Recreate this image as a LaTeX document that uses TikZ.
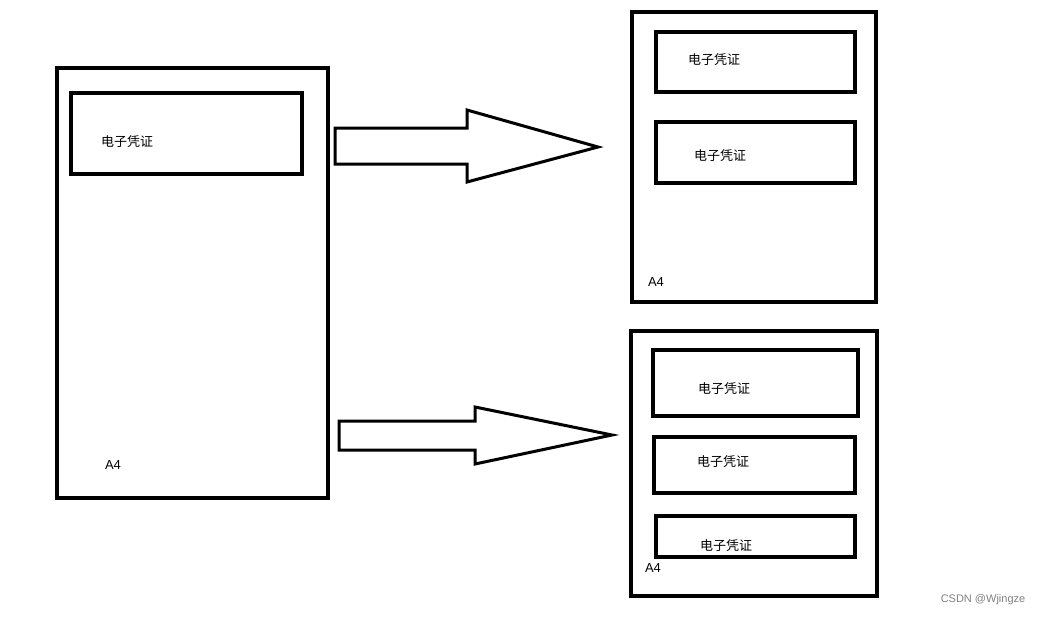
\documentclass[tikz,border=0pt]{standalone}
\usepackage{fontspec}
\newfontfamily\cjk{Noto Sans CJK SC}
\setmainfont{Liberation Sans}
\begin{document}
\begin{tikzpicture}[x=1pt,y=-1pt,
  box/.style={draw,line width=4pt},
  lbl/.style={font=\cjk\fontsize{13}{15}\selectfont,anchor=center,inner sep=0},
  afour/.style={font=\fontsize{13}{15}\selectfont,inner sep=0},
  arr/.style={draw,line width=3pt,line join=miter}]
\useasboundingbox (0,0) rectangle (1044,616);
\draw[box] (57,68) rectangle (328,498);
\draw[box] (71,93) rectangle (302,174);
\node[lbl] (t1) at (127,142) {电子凭证};
\node[afour] (a1) at (113,465) {A4};
\draw[arr] (335,128) -- (467,128) -- (467,110) -- (598,147) -- (467,182) -- (467,164) -- (335,164) -- cycle;
\draw[arr] (339,421) -- (475,421) -- (475,407) -- (612,435) -- (475,464) -- (475,450) -- (339,450) -- cycle;
\draw[box] (632,12) rectangle (876,302);
\draw[box] (656,32) rectangle (855,92);
\node[lbl] (t2) at (714,60) {电子凭证};
\draw[box] (656,122) rectangle (855,183);
\node[lbl] (t3) at (720,156) {电子凭证};
\node[afour] (a2) at (656,282) {A4};
\draw[box] (631,331) rectangle (877,596);
\draw[box] (653,350) rectangle (858,416);
\node[lbl] (t4) at (724,389) {电子凭证};
\draw[box] (654,437) rectangle (855,493);
\node[lbl] (t5) at (723,462) {电子凭证};
\draw[box] (656,516) rectangle (855,557);
\node[lbl] (t6) at (726,546) {电子凭证};
\node[afour] (a3) at (653,568) {A4};
\node[font=\fontsize{11}{13}\selectfont,text=gray,inner sep=0] (wm) at (983,600) {CSDN @Wjingze};
\end{tikzpicture}
\end{document}
